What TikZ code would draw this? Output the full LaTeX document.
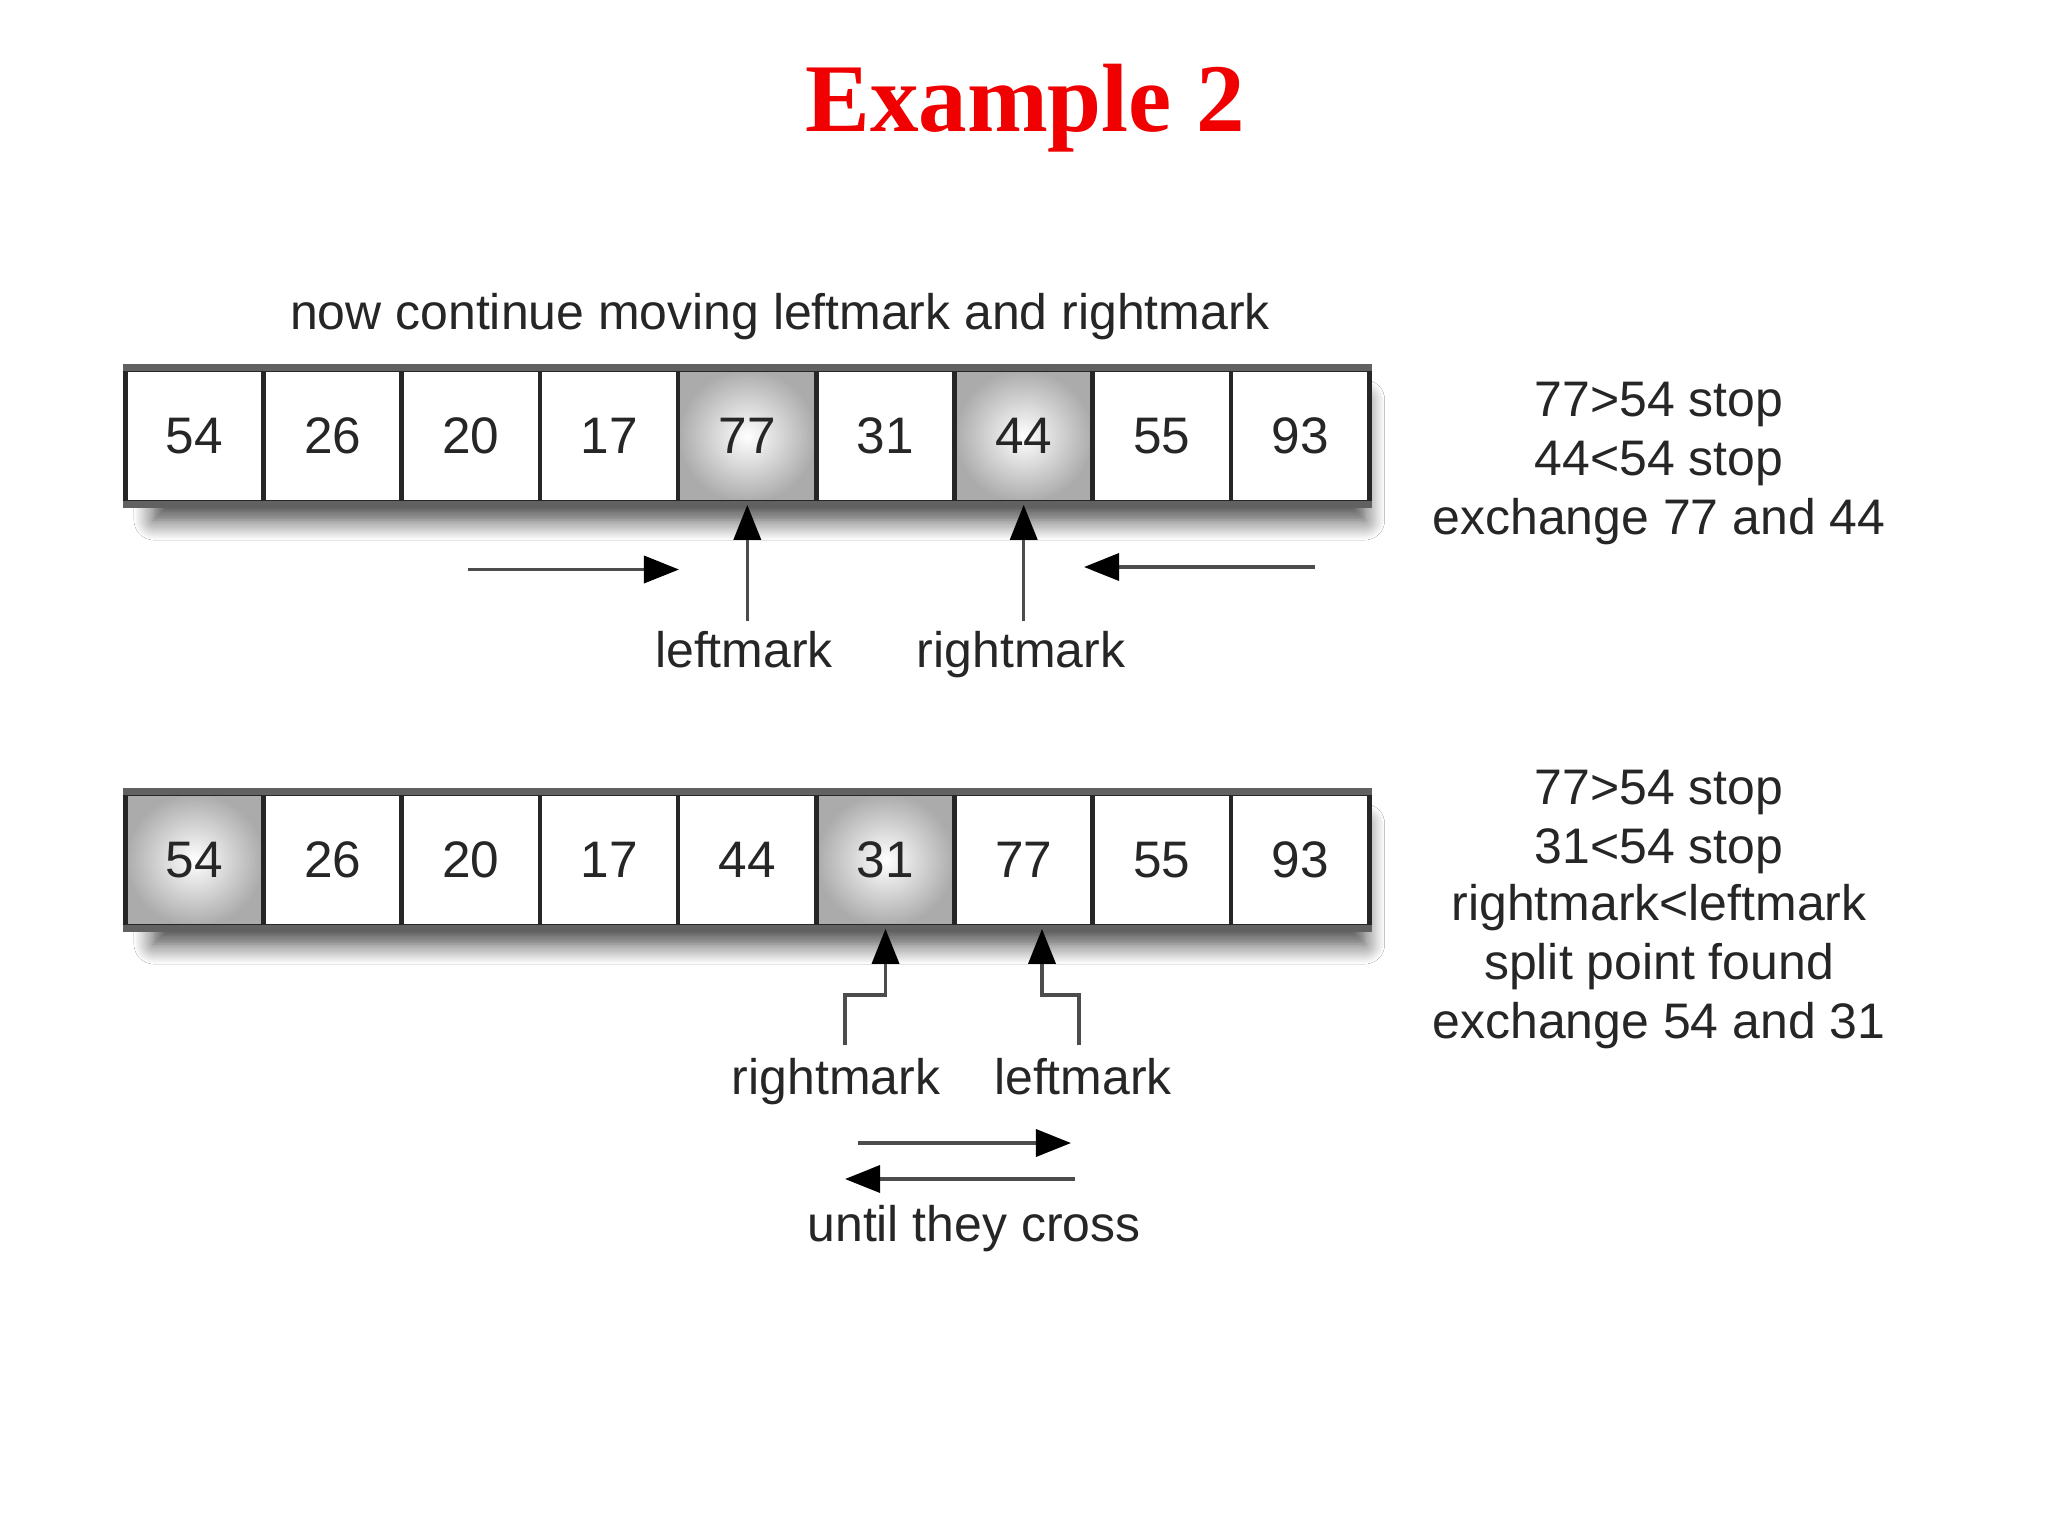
\documentclass[tikz,border=0pt]{standalone}
\usepackage{fontspec}
\setmainfont{Liberation Sans}
\newfontfamily\titlefont{Liberation Serif}
\usetikzlibrary{arrows.meta,shadows.blur}
\definecolor{titlered}{RGB}{240,0,0}
\tikzset{
  cellbox/.style={draw=black!85, line width=1.3pt, fill=white, minimum width=1.382cm, minimum height=1.33cm, inner sep=0pt, text=black!85, font=\fontsize{14.6}{17}\selectfont},
  cellhi/.style={cellbox, shading=radial, inner color=white, outer color=black!33},
  shadowbox/.style={fill=white, draw=none, minimum width=12.1cm, minimum height=1.2cm, inner sep=0pt,
    blur shadow={shadow xshift=0.12cm, shadow yshift=-0.24cm, shadow blur radius=0.2cm, shadow blur steps=12, shadow opacity=75}},
  frameedge/.style={draw=black!62, line width=2pt},
  lbl/.style={anchor=base, inner sep=0pt, text=black!85, font=\fontsize{14.2}{17}\selectfont},
  arr/.style={draw=black!70, line width=1pt, -{Triangle[length=0.35cm,width=0.27cm,color=black]}},
}
\begin{document}
\begin{tikzpicture}[x=0.01cm,y=-0.01cm]
\useasboundingbox[fill=white] (0,0) rectangle (2048,1536);
% title
\node[anchor=base, inner sep=0pt, text=titlered, font=\titlefont\bfseries\fontsize{27.6}{33}\selectfont] (title) at (1025,131) {Example 2};
% heading
\node[lbl] (head) at (780,329) {now continue moving leftmark and rightmark};

% ---------- top array ----------
\node[shadowbox] (tsh) at (747.3,436) {};
\node[cellbox] (t0) at (194.5,436) {54};
\node[cellbox] (t1) at (332.7,436) {26};
\node[cellbox] (t2) at (470.9,436) {20};
\node[cellbox] (t3) at (609.1,436) {17};
\node[cellhi]  (t4) at (747.3,436) {77};
\node[cellbox] (t5) at (885.5,436) {31};
\node[cellhi]  (t6) at (1023.7,436) {44};
\node[cellbox] (t7) at (1161.9,436) {55};
\node[cellbox] (t8) at (1300.1,436) {93};
\draw[frameedge] (t0.north west) -- (t8.north east);
\draw[frameedge] (t0.south west) -- (t8.south east);

\coordinate (tra) at (467.6,569.5);
\coordinate (trb) at (679,569.5);
\draw[arr] (tra) -- (trb);
\coordinate (tla) at (1315,567);
\coordinate (tlb) at (1084,567);
\draw[arr] (tla) -- (tlb);
\coordinate (lmup) at (747.3,621);
\draw[arr] (lmup) -- (lmup |- t4.south);
\coordinate (rmup) at (1023.7,621);
\draw[arr] (rmup) -- (rmup |- t6.south);
\node[lbl] (lm1) at (744,667) {leftmark};
\node[lbl] (rm1) at (1021,667) {rightmark};

\node[lbl] (rt1) at (1659,416.6) {77>54 stop};
\node[lbl] (rt2) at (1659,475.4) {44<54 stop};
\node[lbl] (rt3) at (1659,534.2) {exchange 77 and 44};

% ---------- bottom array ----------
\node[shadowbox] (bsh) at (747.3,860) {};
\node[cellhi]  (b0) at (194.5,860) {54};
\node[cellbox] (b1) at (332.7,860) {26};
\node[cellbox] (b2) at (470.9,860) {20};
\node[cellbox] (b3) at (609.1,860) {17};
\node[cellbox] (b4) at (747.3,860) {44};
\node[cellhi]  (b5) at (885.5,860) {31};
\node[cellbox] (b6) at (1023.7,860) {77};
\node[cellbox] (b7) at (1161.9,860) {55};
\node[cellbox] (b8) at (1300.1,860) {93};
\draw[frameedge] (b0.north west) -- (b8.north east);
\draw[frameedge] (b0.south west) -- (b8.south east);

\coordinate (rmstart) at (845,1045);
\coordinate (rmturn) at (885.5,995);
\draw[arr] (rmstart) -- (rmstart |- rmturn) -- (rmturn) -- (b5.south);
\coordinate (lmstart) at (1079,1045);
\coordinate (lmturn) at (1042,995);
\draw[arr] (lmstart) -- (lmstart |- lmturn) -- (lmturn) -- (lmturn |- b6.south);
\node[lbl] (rm2) at (836,1094) {rightmark};
\node[lbl] (lm2) at (1083,1094) {leftmark};

\coordinate (bra) at (858,1143);
\coordinate (brb) at (1071,1143);
\draw[arr] (bra) -- (brb);
\coordinate (bla) at (1075,1179);
\coordinate (blb) at (845,1179);
\draw[arr] (bla) -- (blb);
\node[lbl] (cross) at (974,1241) {until they cross};

\node[lbl] (rb1) at (1659,804.5) {77>54 stop};
\node[lbl] (rb2) at (1659,863.3) {31<54 stop};
\node[lbl] (rb3) at (1659,920.8) {rightmark<leftmark};
\node[lbl] (rb4) at (1659,979.6) {split point found};
\node[lbl] (rb5) at (1659,1038.4) {exchange 54 and 31};
\end{tikzpicture}
\end{document}
